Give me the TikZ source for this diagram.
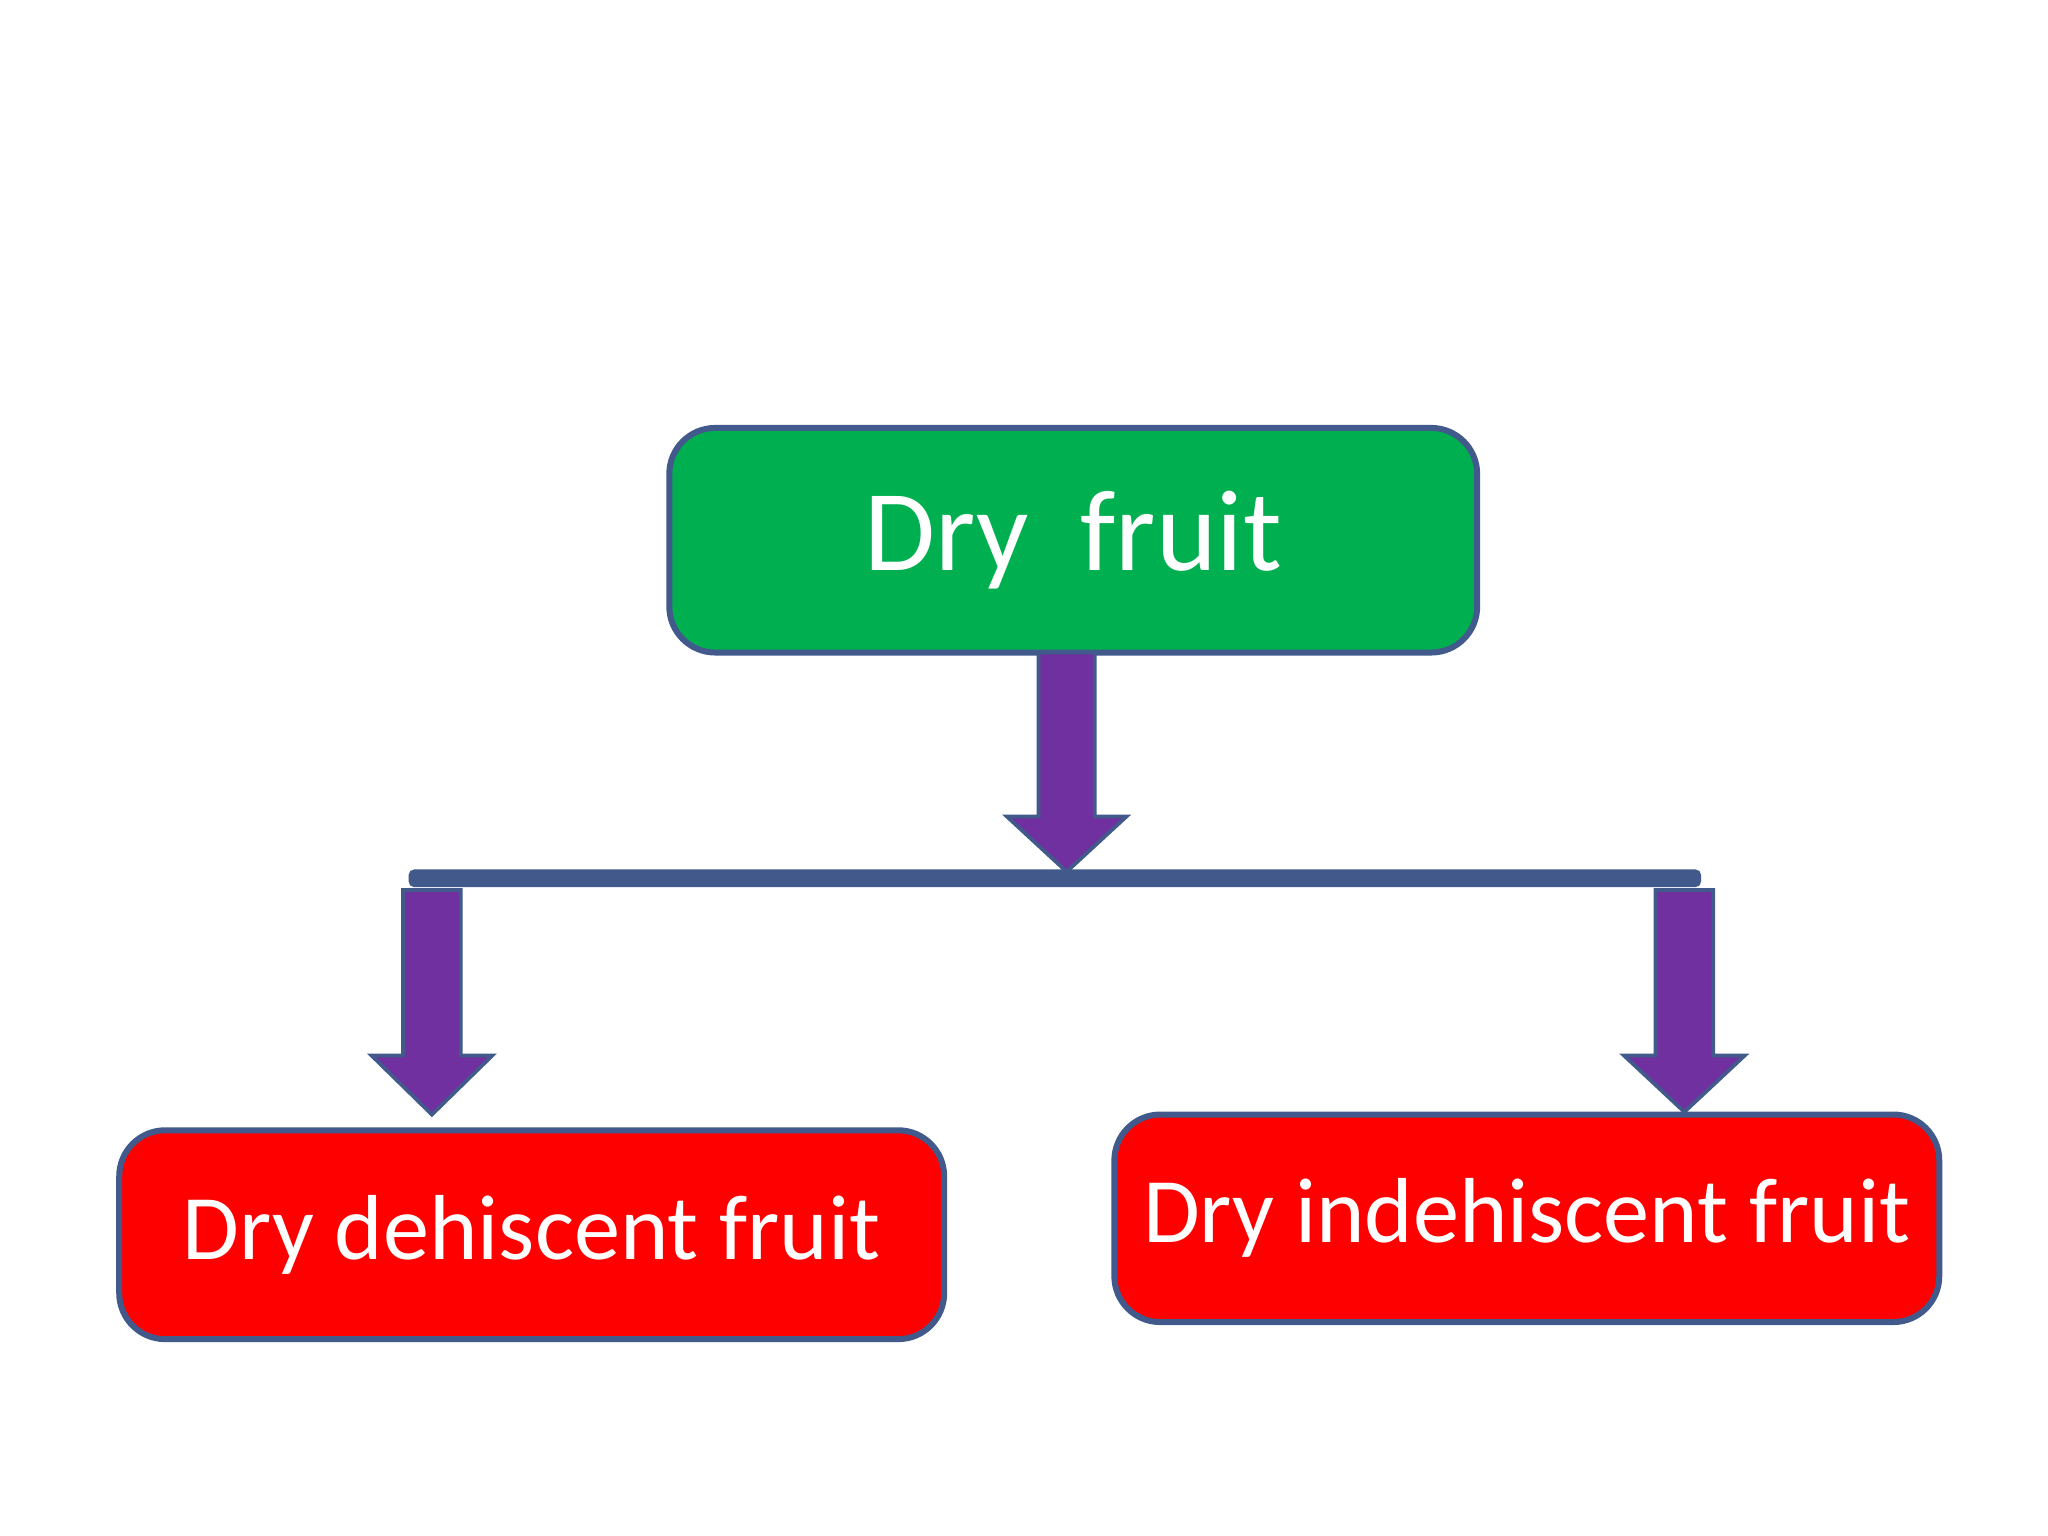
\documentclass[tikz,border=0pt]{standalone}
\usepackage{fontspec}
\setmainfont{Carlito}
\usetikzlibrary{positioning}
\definecolor{boxgreen}{HTML}{00B050}
\definecolor{boxred}{HTML}{FF0000}
\definecolor{arrowpurple}{HTML}{7030A0}
\definecolor{edgeblue}{HTML}{41598B}
\tikzset{
box/.style={draw=edgeblue,line width=1.3pt,rounded corners=3.5mm,text=white,inner sep=0pt},
toparrow/.style={fill=arrowpurple,draw=edgeblue,line width=0.8pt,line join=miter}
}
\begin{document}
\begin{tikzpicture}[x=0.01cm,y=-0.01cm]
\useasboundingbox (0,0) rectangle (1560,1170);
\node[box,fill=boxgreen,minimum width=6.15cm,minimum height=1.71cm,font=\fontsize{25}{30}\selectfont] (dry) at (817.5,411.5) {Dry\ \ fruit};
\node[box,fill=boxred,minimum width=6.28cm,minimum height=1.59cm,font=\fontsize{20}{24}\selectfont] (deh) at (405,940.5) {Dry dehiscent fruit};
\node[box,fill=boxred,minimum width=6.28cm,minimum height=1.58cm,font=\fontsize{20}{24}\selectfont] (ind) at (1163,928) {Dry indehiscent fruit};
% arrows
\draw[toparrow] (791,497) -- (834,497) -- (834,622) -- (858,622) -- (812.5,664) -- (767,622) -- (791,622) -- cycle;
\draw[toparrow] (307,678) -- (351,678) -- (351,804) -- (375,804) -- (329,849) -- (283,804) -- (307,804) -- cycle;
\draw[toparrow] (1261,678) -- (1305,678) -- (1305,804) -- (1329,804) -- (1283,847) -- (1237,804) -- (1261,804) -- cycle;
% bar
\draw[fill=edgeblue,draw=edgeblue,rounded corners=1pt] (312,663) rectangle (1295,675);
\end{tikzpicture}
\end{document}
